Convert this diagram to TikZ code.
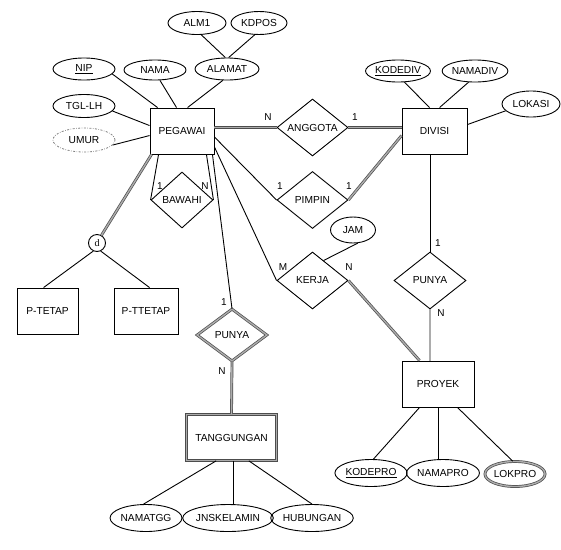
\documentclass[tikz,border=0pt]{standalone}
\usepackage{fontspec}
\setmainfont{Liberation Sans}
\newfontfamily\dfont{Liberation Serif}
\usetikzlibrary{shapes.geometric,calc}
\begin{document}
\begin{tikzpicture}[x=1pt,y=-1pt,
  every node/.style={font=\fontsize{10.2}{12}\selectfont, inner sep=0pt},
  ent/.style={draw, rectangle, line width=0.9pt, minimum width=#1, minimum height=46},
  rel/.style={draw, diamond, aspect=1.25, line width=0.9pt, minimum width=#1, minimum height=57},
  att/.style={draw, ellipse, line width=0.9pt, minimum width=#1, minimum height=23},
  dbl/.style={draw=black!70, double=gray!65, double distance=1.4pt, line width=0.7pt},
  ln/.style={draw, line width=0.9pt},
  card/.style={font=\fontsize{10}{12}\selectfont}
]
\useasboundingbox (0,0) rectangle (561,549);

% entities
\node[ent=64] (PEG) at (182,131) {PEGAWAI};
\node[ent=65] (DIV) at (434.5,131) {DIVISI};
\node[ent=72] (PRO) at (438,384) {PROYEK};
\node[ent=61] (PT1) at (47.5,311) {P-TETAP};
\node[ent=64] (PT2) at (146,311) {P-TTETAP};
\node[rectangle, dbl, minimum width=90, minimum height=46] (TAN) at (231.5,437.5) {TANGGUNGAN};

% relationships
\node[rel=71] (ANG) at (312.5,127.5) {ANGGOTA};
\node[rel=71] (PIM) at (312.5,200) {PIMPIN};
\node[rel=62, minimum height=56] (BAW) at (182,200) {BAWAHI};
\node[rel=71] (KER) at (312.5,280.5) {KERJA};
\node[rel=72] (PUN2) at (430,280.5) {PUNYA};
\node[diamond, aspect=1.25, dbl, minimum width=70, minimum height=52] (PUN1) at (232,335) {PUNYA};

% disjoint circle
\node[draw, circle, line width=0.9pt, minimum size=17, font=\dfont\fontsize{10}{12}\selectfont] (D) at (97,243) {d};

% attributes
\node[att=58] (ALM) at (197,23) {ALM1};
\node[att=56] (KDP) at (259,23) {KDPOS};
\node[att=64, minimum height=22] (ALA) at (227,69) {ALAMAT};
\node[att=62, minimum height=20] (NAM) at (155,70) {NAMA};
\node[att=62, minimum height=22] (NIP) at (84,69) {\underline{NIP}};
\node[att=62] (TGL) at (84,106) {TGL-LH};
\node[ellipse, draw=gray, line width=0.8pt, dash pattern=on 2pt off 1.5pt on 0.6pt off 1.5pt, minimum width=62, minimum height=24] (UMR) at (84,140) {UMUR};
\node[att=63, minimum height=22] (KDV) at (398,71) {\underline{KODEDIV}};
\node[att=55, minimum height=22] (NMD) at (475,71) {NAMADIV};
\node[att=58, minimum height=26] (LOK) at (531,104) {LOKASI};
\node[att=45, minimum height=26] (JAM) at (353,230) {JAM};
\node[att=63, minimum height=27] (KOP) at (371,473) {\underline{KODEPRO}};
\node[att=63, minimum height=27] (NMP) at (443,473) {NAMAPRO};
\node[ellipse, dbl, minimum width=60, minimum height=25] (LKP) at (515,474) {LOKPRO};
\node[att=62, minimum height=27] (NTG) at (146,518) {NAMATGG};
\node[att=83, minimum height=27] (JNS) at (228,518) {JNSKELAMIN};
\node[att=73, minimum height=27] (HUB) at (312,518) {HUBUNGAN};

% attribute links
\draw[ln] (NIP.-10) -- ([xshift=8]PEG.north west);
\draw[ln] ([xshift=5]NAM.south) -- ([xshift=27]PEG.north west);
\draw[ln] (ALA.-110) -- ([xshift=38]PEG.north west);
\draw[ln] (ALM.-70) -- (ALA.98);
\draw[ln] (KDP.-110) -- (ALA.82);
\draw[ln] (TGL.-10) -- ([yshift=-18]PEG.north west);
\draw[ln] (UMR.-10) -- ([yshift=-28]PEG.north west);
\draw[ln] (KDV.-60) -- ([xshift=28]DIV.north west);
\draw[ln] (NMD.-120) -- ([xshift=38]DIV.north west);
\draw[ln] (LOK.-165) -- ([yshift=-17]DIV.north east);
\draw[ln] (KER.61) -- (JAM.-70);
\draw[ln] ([xshift=18]PRO.south west) -- (KOP.80);
\draw[ln] (PRO.south) -- (PRO.south |- NMP.north);
\draw[ln] ([xshift=-17]PRO.south east) -- (LKP.100);
\draw[ln] ([xshift=30]TAN.south west) -- (NTG.100);
\draw[ln] ([xshift=1.5]TAN.south) -- ([xshift=1.5]TAN.south |- JNS.north);
\draw[ln] ([xshift=-28]TAN.south east) -- (HUB.north);

% relationship links
\draw[dbl] (ANG.west -| PEG.east) -- (ANG.west);
\draw[dbl] (ANG.east) -- (ANG.east -| DIV.west);
\draw[ln] ([yshift=-6]PEG.east) -- (PIM.west);
\draw[dbl] (PIM.east) -- ([yshift=-28]DIV.north west);
\draw[ln] ([yshift=-16]PEG.east) -- (KER.west);
\draw[dbl] (KER.east) -- ([xshift=18]PRO.north west);
\draw[ln] (PUN2.north |- DIV.south) -- (PUN2.north);
\draw[dbl] (PUN2.south) -- (PUN2.south |- PRO.north);
\draw[ln] ([xshift=9]PEG.south west) -- (BAW.west);
\draw[ln] ([xshift=-8]PEG.south east) -- (BAW.east);
\draw[ln] ([xshift=-2]PEG.south east) -- (PUN1.north);
\draw[dbl] (PUN1.south) -- (TAN.north);
\draw[dbl] ([xshift=2]PEG.south west) -- (D.60);
\draw[ln] (D.-115) -- ([xshift=27]PT1.north west);
\draw[ln] (D.-65) -- ([xshift=36]PT2.north west);

% cardinalities
\node[card] (c1) at (268,117) {N};
\node[card] (c2) at (355,117) {1};
\node[card] (c3) at (280,186) {1};
\node[card] (c4) at (349,186) {1};
\node[card] (c5) at (160,186) {1};
\node[card] (c6) at (205,186) {N};
\node[card] (c7) at (283,267) {M};
\node[card] (c8) at (349,267) {N};
\node[card] (c9) at (438,243) {1};
\node[card] (c10) at (441,313) {N};
\node[card] (c11) at (224,302) {1};
\node[card] (c12) at (222,371) {N};
\end{tikzpicture}
\end{document}
